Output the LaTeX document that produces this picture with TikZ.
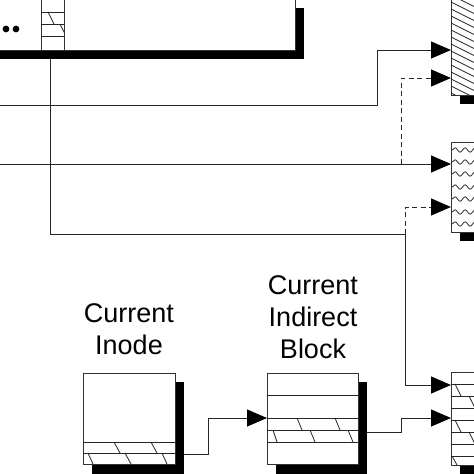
\documentclass[tikz,border=0pt]{standalone}
\usepackage{fontspec}
\setmainfont{Liberation Sans}
\usetikzlibrary{arrows.meta,decorations.pathmorphing}
\begin{document}
\begin{tikzpicture}[x=1pt,y=-1pt,
  wire/.style={draw=black!85,line width=1pt},
  tip/.style={-{Triangle[length=20pt,width=17pt,color=black]}},
  arr/.style={wire,tip},
  dwire/.style={wire,tip,dash pattern=on 5pt off 3.5pt},
  box/.style={draw=black!80,line width=1pt,fill=white,inner sep=0pt,outer sep=0pt,anchor=north west},
  shadowfill/.style={fill=black},
  hatch/.style={draw=black!85,line width=0.8pt},
  lbl/.style={font=\fontsize{27}{32}\selectfont,align=center,inner sep=0pt,anchor=north}
]
\useasboundingbox (0,0) rectangle (474,474);
\begin{scope}
\clip (0,0) rectangle (474,474);

% ---- connectors (drawn first) ----
\coordinate (s1) at (50,50);
\coordinate (s2) at (-5,105);
\coordinate (s3) at (-5,164);
\coordinate (j1) at (401,164);
\coordinate (j2) at (405,234);
\coordinate (s4) at (184,454);
\coordinate (s5) at (367,432);
\coordinate (t1) at (451,50);
\coordinate (t2) at (451,78);
\coordinate (t3) at (451,164);
\coordinate (t4) at (451,207);
\coordinate (t5) at (451,385);
\coordinate (t6) at (451,418);
\coordinate (t7) at (267,418);

\draw[arr] (s1) |- (j2) |- (t5);
\draw[arr] (s2) -| (377,50) -- (t1);
\draw[arr] (s3) -- (t3);
\draw[dwire] (j1) |- (t2);
\draw[dwire] (j2) |- (t4);
\draw[arr] (s4) -| (208,418) -- (t7);
\draw[arr] (s5) -| (401,418) -- (t6);

% ---- top-left big box ----
\fill[shadowfill] (-11,8) rectangle (304,59);
\node[box,minimum width=315pt,minimum height=51pt] (big) at (-20,-1) {};
\node[box,minimum width=23pt,minimum height=70pt] (col) at (41,-20) {};
\foreach \y in {12,24,36} \draw[hatch] (41,\y) -- (64,\y);
\begin{scope}
\clip (41,-20) rectangle (64,50);
\draw[hatch] (48,12) -- (54,24);
\draw[hatch] (60,24) -- (66,36);
\end{scope}
\fill (6,29) circle (3.4pt);
\fill (16,29) circle (3.4pt);

% ---- right top box (diagonal hatching) ----
\fill[shadowfill] (460,-11) rectangle (510,104);
\node[box,minimum width=49pt,minimum height=115pt] (rtop) at (451,-20) {};
\begin{scope}
\clip (451,-20) rectangle (500,95);
\foreach \y in {-40,-33,...,100} \draw[hatch] (451,\y) -- (511,\y+30);
\end{scope}

% ---- right middle box (wavy) ----
\fill[shadowfill] (460,151) rectangle (510,241);
\node[box,minimum width=49pt,minimum height=90pt] (rmid) at (451,142) {};
\begin{scope}
\clip (451,142) rectangle (500,232);
\foreach \y in {150,162,174,187,199,212,224}
  \draw[hatch,decorate,decoration={snake,segment length=10pt,amplitude=2.2pt}] (452,\y) -- (505,\y);
\end{scope}

% ---- right bottom box ----
\fill[shadowfill] (460,381) rectangle (510,480);
\node[box,minimum width=49pt,minimum height=93pt] (rbot) at (451,372) {};
\foreach \y in {384,396,408,420,432,444,456} \draw[hatch] (451,\y) -- (500,\y);
\begin{scope}
\clip (451,372) rectangle (500,465);
\draw[hatch] (455,384) -- (461,396);
\draw[hatch] (469,396) -- (475,408);
\draw[hatch] (455,420) -- (461,432);
\draw[hatch] (469,432) -- (475,444);
\draw[hatch] (452,456) -- (457,465);
\end{scope}

% ---- current inode ----
\fill[shadowfill] (92,382) rectangle (184,480);
\node[box,minimum width=92pt,minimum height=91pt] (inode) at (83,373) {};
\foreach \y in {442,453} \draw[hatch] (83,\y) -- (175,\y);
\begin{scope}
\clip (83,373) rectangle (175,464);
\draw[hatch] (114,442) -- (120,453);
\draw[hatch] (151,442) -- (157,453);
\draw[hatch] (88,453) -- (93,464);
\draw[hatch] (125,453) -- (131,464);
\draw[hatch] (162,453) -- (167,464);
\end{scope}

% ---- current indirect block ----
\fill[shadowfill] (276,382) rectangle (367,480);
\node[box,minimum width=91pt,minimum height=91pt] (indir) at (267,373) {};
\foreach \y in {395,418,430,442} \draw[hatch] (267,\y) -- (358,\y);
\begin{scope}
\clip (267,373) rectangle (358,464);
\draw[hatch] (297,418) -- (302,430);
\draw[hatch] (335,418) -- (340,430);
\draw[hatch] (273,430) -- (277,442);
\draw[hatch] (310,430) -- (315,442);
\draw[hatch] (348,430) -- (353,442);
\end{scope}

% ---- labels ----
\node[lbl] (linode) at (129,303.5) {Current\\Inode};
\node[lbl] (lindir) at (313,275.5) {Current\\Indirect\\Block};
\end{scope}
\end{tikzpicture}
\end{document}
